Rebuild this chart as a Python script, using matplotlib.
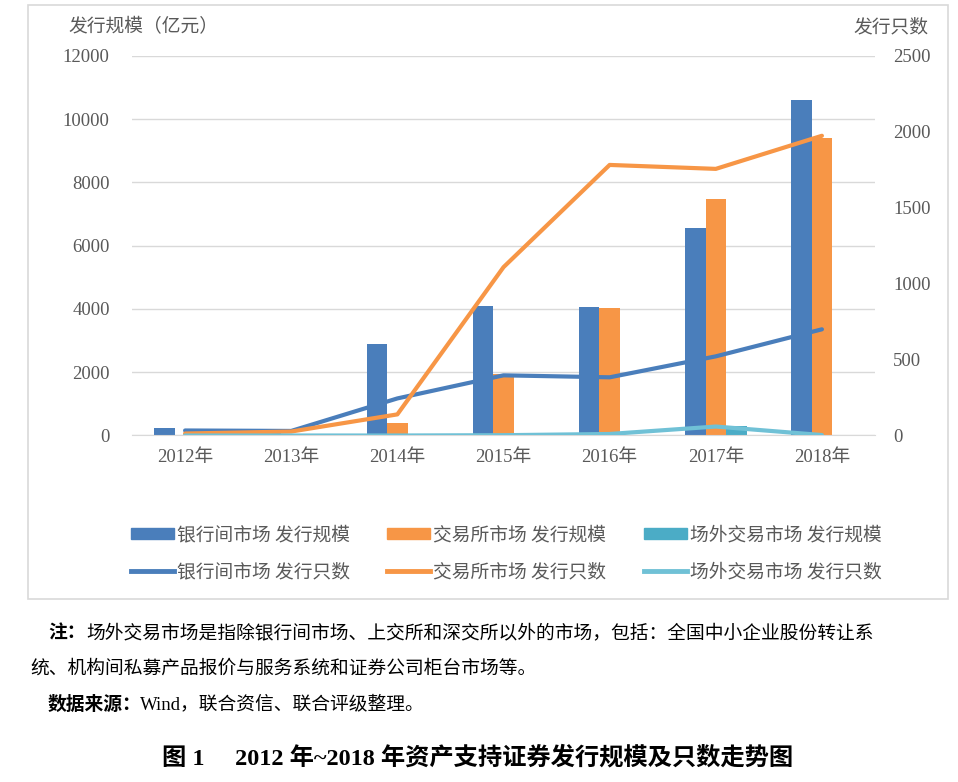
import numpy as np
import matplotlib.pyplot as plt
from matplotlib.patches import Rectangle, Patch
from matplotlib.lines import Line2D

plt.rcParams['font.family'] = ['Noto Sans CJK SC', 'DejaVu Sans']

years = ["2012年", "2013年", "2014年", "2015年", "2016年", "2017年", "2018年"]

# 发行规模（亿元）
size_interbank = [230, 160, 2880, 4080, 4050, 6550, 10600]
size_exchange = [0, 40, 410, 1930, 4020, 7470, 9400]
size_otc = [0, 0, 0, 5, 20, 310, 10]

# 发行只数
count_interbank = [33, 30, 244, 396, 383, 521, 699]
count_exchange = [13, 26, 139, 1108, 1781, 1755, 1973]
count_otc = [0, 0, 0, 2, 10, 59, 3]

c_blue = "#4a7ebb"
c_orange = "#f79646"
c_teal = "#4bacc6"
c_teal_line = "#70c1d6"
grid_c = "#d9d9d9"
tick_c = "#595959"
num_font = ['Liberation Serif', 'Noto Sans CJK SC']

fig = plt.figure(figsize=(9.58, 7.82), dpi=100)
W, H = 958, 782

# chart frame
fig.patches.append(Rectangle((28 / W, 1 - 599 / H), 920 / W, 594 / H,
                             transform=fig.transFigure, fill=False,
                             edgecolor=grid_c, linewidth=1.2))

ax = fig.add_axes([132 / W, 1 - 435.5 / H, 743 / W, 379.8 / H])
ax2 = ax.twinx()

x = np.arange(len(years))
w = 0.193
ax.bar(x - w, size_interbank, w, color=c_blue, zorder=2)
ax.bar(x, size_exchange, w, color=c_orange, zorder=2)
ax.bar(x + w, size_otc, w, color=c_teal, zorder=2)

ax2.plot(x, count_interbank, color=c_blue, lw=3, solid_capstyle="round")
ax2.plot(x, count_exchange, color=c_orange, lw=3, solid_capstyle="round")
ax2.plot(x, count_otc, color=c_teal_line, lw=3, solid_capstyle="round")

ax.set_xlim(-0.5, len(years) - 0.5)
ax.set_ylim(0, 12000)
ax2.set_ylim(0, 2500)
ax.set_yticks(np.arange(0, 12001, 2000))
ax2.set_yticks(np.arange(0, 2501, 500))
ax.grid(axis="y", color=grid_c, lw=1)
ax.set_axisbelow(True)

for a in (ax, ax2):
    for s in a.spines.values():
        s.set_visible(False)
    a.tick_params(length=0, colors=tick_c, labelsize=13.5)
ax.spines["bottom"].set_visible(True)
ax.spines["bottom"].set_color(grid_c)

ax.set_xticks(x)
ax.set_xticklabels(years, family=num_font, fontsize=13.5)
for t in ax.get_yticklabels():
    t.set_family(num_font)
for t in ax2.get_yticklabels():
    t.set_family(num_font)
ax.tick_params(axis="y", pad=16)
ax2.tick_params(axis="y", pad=13)
ax.tick_params(axis="x", pad=10)

fig.text(68 / W, 1 - 27 / H, "发行规模（亿元）", fontsize=13.5, color=tick_c,
         va="center", ha="left")
fig.text(928 / W, 1 - 27 / H, "发行只数", fontsize=13.5, color=tick_c,
         va="center", ha="right")

handles = [
    Patch(color=c_blue), Line2D([], [], color=c_blue, lw=3.5),
    Patch(color=c_orange), Line2D([], [], color=c_orange, lw=3.5),
    Patch(color=c_teal), Line2D([], [], color=c_teal_line, lw=3.5),
]
labels = ["银行间市场 发行规模", "银行间市场 发行只数",
          "交易所市场 发行规模", "交易所市场 发行只数",
          "场外交易市场 发行规模", "场外交易市场 发行只数"]
leg = fig.legend(handles, labels, ncol=3, loc="center",
                 bbox_to_anchor=(506 / W, 1 - 553 / H), frameon=False,
                 fontsize=13.5, handlelength=2.3, handleheight=0.5,
                 handletextpad=0.15, columnspacing=2.0, labelspacing=0.85,
                 labelcolor=tick_c)

# notes below the chart
note_fs = 13.5
fig.text(48 / W, 1 - 633 / H, "注：", fontsize=note_fs, weight="bold", va="center")
fig.text(86 / W, 1 - 633 / H,
         "场外交易市场是指除银行间市场、上交所和深交所以外的市场，包括：全国中小企业股份转让系",
         fontsize=note_fs, va="center")
fig.text(30 / W, 1 - 668 / H, "统、机构间私募产品报价与服务系统和证券公司柜台市场等。",
         fontsize=note_fs, va="center")
fig.text(48 / W, 1 - 704 / H, "数据来源：", fontsize=note_fs, weight="bold", va="center")
fig.text(140 / W, 1 - 704 / H, "Wind，联合资信、联合评级整理。",
         fontsize=note_fs, va="center", family=num_font)
fig.text(478 / W, 1 - 758 / H, "图 1     2012 年~2018 年资产支持证券发行规模及只数走势图",
         fontsize=17.5, weight="bold", ha="center", va="center", family=num_font)

fig.savefig("out.png", dpi=100)
